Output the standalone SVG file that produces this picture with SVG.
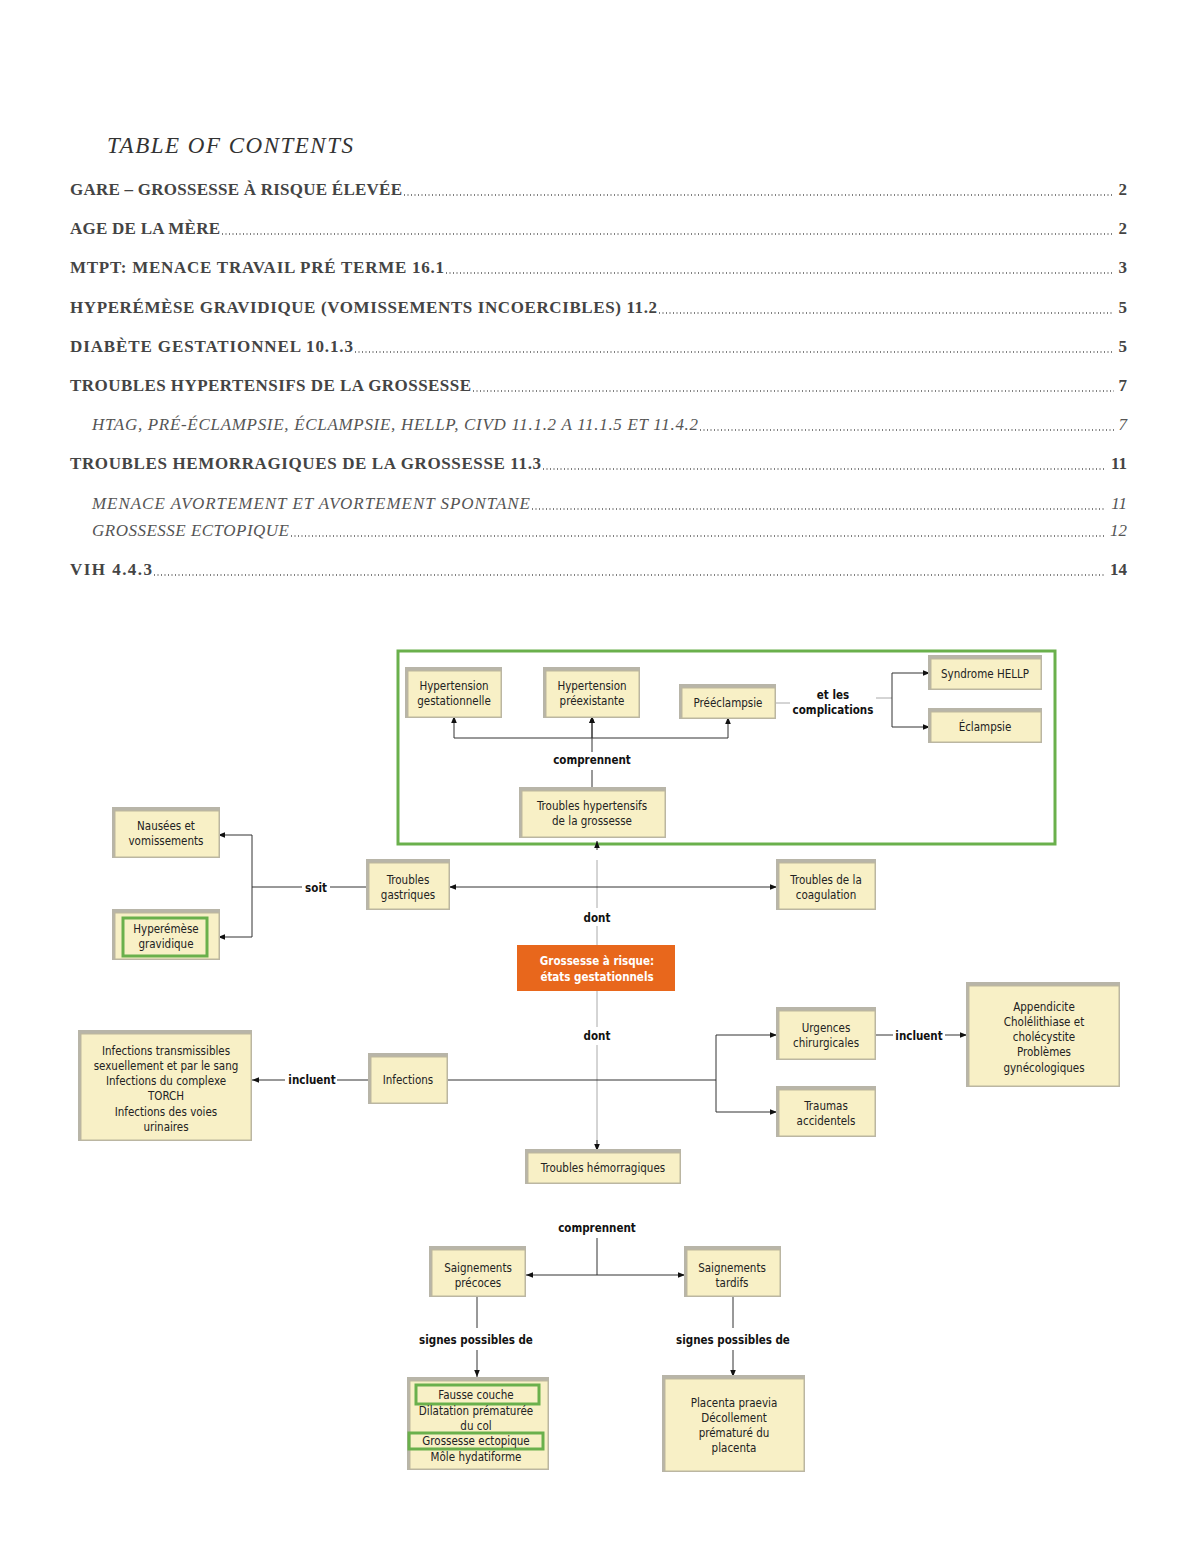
<svg xmlns="http://www.w3.org/2000/svg" width="1200" height="1553" viewBox="0 0 1200 1553">
<defs>
<style>
.toc{font-family:"Liberation Serif",serif;font-weight:bold;font-size:17px;fill:#444}
.toci{font-family:"Liberation Serif",serif;font-style:italic;font-size:17px;fill:#555}
.dots{stroke:#555;stroke-width:1.3;stroke-dasharray:1 2.5}
.box{fill:#f8f0c6;stroke:#bdb89c;stroke-width:1}
.sh{fill:#b8b5a8}
.t{font-family:"DejaVu Sans Condensed","DejaVu Sans",sans-serif;font-size:11.5px;fill:#222;text-anchor:middle}
.b{font-family:"DejaVu Sans Condensed","DejaVu Sans",sans-serif;font-size:11.5px;font-weight:bold;fill:#111;text-anchor:middle}
.ln{stroke:#333;stroke-width:1;fill:none}
.lg{stroke:#aaa;stroke-width:1;fill:none}
.gr{fill:none;stroke:#6ab04c;stroke-width:3}
</style>
<marker id="a" viewBox="0 0 10 10" refX="10" refY="5" markerWidth="7" markerHeight="7" orient="auto-start-reverse"><path d="M0,1 L10,5 L0,9z" fill="#111"/></marker>
</defs>
<rect width="1200" height="1553" fill="#fff"/>
<text x="107" y="153" font-family="Liberation Serif,serif" font-style="italic" font-size="23" fill="#333" letter-spacing="1.5">TABLE OF CONTENTS</text>
<g id="toc">
<text class="toc" x="70" y="195" textLength="332">GARE – GROSSESSE À RISQUE ÉLEVÉE</text><line class="dots" x1="404" y1="195" x2="1114" y2="195"/><text class="toc" x="1127" y="195" text-anchor="end">2</text>
<text class="toc" x="70" y="234" textLength="150">AGE DE LA MÈRE</text><line class="dots" x1="222" y1="234" x2="1114" y2="234"/><text class="toc" x="1127" y="234" text-anchor="end">2</text>
<text class="toc" x="70" y="273" textLength="374">MTPT: MENACE TRAVAIL PRÉ TERME 16.1</text><line class="dots" x1="446" y1="273" x2="1114" y2="273"/><text class="toc" x="1127" y="273" text-anchor="end">3</text>
<text class="toc" x="70" y="313" textLength="587">HYPERÉMÈSE GRAVIDIQUE (VOMISSEMENTS INCOERCIBLES) 11.2</text><line class="dots" x1="659" y1="313" x2="1114" y2="313"/><text class="toc" x="1127" y="313" text-anchor="end">5</text>
<text class="toc" x="70" y="352" textLength="283">DIABÈTE GESTATIONNEL 10.1.3</text><line class="dots" x1="355" y1="352" x2="1114" y2="352"/><text class="toc" x="1127" y="352" text-anchor="end">5</text>
<text class="toc" x="70" y="391" textLength="401">TROUBLES HYPERTENSIFS DE LA GROSSESSE</text><line class="dots" x1="473" y1="391" x2="1114" y2="391"/><text class="toc" x="1127" y="391" text-anchor="end">7</text>
<text class="toci" x="92" y="430" textLength="606">HTAG, PRÉ-ÉCLAMPSIE, ÉCLAMPSIE, HELLP, CIVD 11.1.2 A 11.1.5 ET 11.4.2</text><line class="dots" x1="700" y1="430" x2="1114" y2="430"/><text class="toci" x="1127" y="430" text-anchor="end">7</text>
<text class="toc" x="70" y="469" textLength="471">TROUBLES HEMORRAGIQUES DE LA GROSSESSE 11.3</text><line class="dots" x1="543" y1="469" x2="1104" y2="469"/><text class="toc" x="1127" y="469" text-anchor="end">11</text>
<text class="toci" x="92" y="509" textLength="438">MENACE AVORTEMENT ET AVORTEMENT SPONTANE</text><line class="dots" x1="532" y1="509" x2="1104" y2="509"/><text class="toci" x="1127" y="509" text-anchor="end">11</text>
<text class="toci" x="92" y="536" textLength="197">GROSSESSE ECTOPIQUE</text><line class="dots" x1="291" y1="536" x2="1104" y2="536"/><text class="toci" x="1127" y="536" text-anchor="end">12</text>
<text class="toc" x="70" y="575" textLength="82">VIH 4.4.3</text><line class="dots" x1="154" y1="575" x2="1104" y2="575"/><text class="toc" x="1127" y="575" text-anchor="end">14</text>
</g>
<rect class="gr" x="398" y="651" width="657" height="193"/>
<g id="connectors">
<path class="ln" d="M454,738 H728 M592,790 V770 M592,752 V716" marker-end="url(#a)"/>
<path class="ln" d="M454,738 V716" marker-end="url(#a)"/>
<path class="ln" d="M728,738 V717" marker-end="url(#a)"/>
<path class="ln" d="M592,738 V716" marker-end="url(#a)"/>
<path class="lg" d="M775,703 H790 M876,698 H892"/>
<path class="ln" d="M892,673 V727"/>
<path class="ln" d="M892,673 H930" marker-end="url(#a)"/>
<path class="ln" d="M892,727 H930" marker-end="url(#a)"/>
<path class="lg" d="M597,860 V908 M597,926 V945 M597,991 V1027 M597,1045 V1150"/>
<path class="ln" d="M597,850 V841" marker-end="url(#a)"/>
<path class="ln" d="M597,1140 V1151" marker-end="url(#a)"/>
<path class="ln" d="M449,887 H777" marker-start="url(#a)" marker-end="url(#a)"/>
<path class="ln" d="M252,887 H302 M330,887 H368 M252,835 V937"/>
<path class="ln" d="M252,835 H218" marker-end="url(#a)"/>
<path class="ln" d="M252,937 H218" marker-end="url(#a)"/>
<path class="ln" d="M285,1080 H252" marker-end="url(#a)"/>
<path class="ln" d="M337,1080 H370 M446,1080 H716 M716,1035 V1112"/>
<path class="ln" d="M716,1035 H777" marker-end="url(#a)"/>
<path class="ln" d="M716,1112 H777" marker-end="url(#a)"/>
<path class="ln" d="M874,1035 H893"/>
<path class="ln" d="M945,1035 H967" marker-end="url(#a)"/>
<path class="ln" d="M597,1238 V1275"/>
<path class="ln" d="M526,1275 H685" marker-start="url(#a)" marker-end="url(#a)"/>
<path class="ln" d="M477,1297 V1328 M733,1297 V1328"/>
<path class="ln" d="M477,1350 V1377" marker-end="url(#a)"/>
<path class="ln" d="M733,1350 V1377" marker-end="url(#a)"/>
</g>
<g id="labels">
<text class="b" x="833" y="699">et les</text><text class="b" x="833" y="714">complications</text>
<text class="b" x="592" y="764">comprennent</text>
<text class="b" x="597" y="922">dont</text>
<text class="b" x="597" y="1040">dont</text>
<text class="b" x="316" y="892">soit</text>
<text class="b" x="312" y="1084">incluent</text>
<text class="b" x="919" y="1040">incluent</text>
<text class="b" x="597" y="1232">comprennent</text>
<text class="b" x="476" y="1344">signes possibles de</text>
<text class="b" x="733" y="1344">signes possibles de</text>
</g>
<g id="n1"><rect class="sh" x="405" y="667" width="97" height="51"/><rect class="box" x="408" y="671" width="93" height="46"/><text class="t" x="454" y="690">Hypertension</text><text class="t" x="454" y="705">gestationnelle</text></g>
<g id="n2"><rect class="sh" x="543" y="667" width="97" height="51"/><rect class="box" x="546" y="671" width="93" height="46"/><text class="t" x="592" y="690">Hypertension</text><text class="t" x="592" y="705">préexistante</text></g>
<g id="n3"><rect class="sh" x="679" y="684" width="97" height="35"/><rect class="box" x="682" y="688" width="93" height="30"/><text class="t" x="728" y="707">Prééclampsie</text></g>
<g id="n4"><rect class="sh" x="928" y="655" width="114" height="35"/><rect class="box" x="931" y="659" width="110" height="30"/><text class="t" x="985" y="678">Syndrome HELLP</text></g>
<g id="n5"><rect class="sh" x="928" y="708" width="114" height="35"/><rect class="box" x="931" y="712" width="110" height="30"/><text class="t" x="985" y="731">Éclampsie</text></g>
<g id="n6"><rect class="sh" x="519" y="787" width="147" height="51"/><rect class="box" x="522" y="791" width="143" height="46"/><text class="t" x="592" y="810">Troubles hypertensifs</text><text class="t" x="592" y="825">de la grossesse</text></g>
<g id="n7"><rect class="sh" x="112" y="807" width="108" height="51"/><rect class="box" x="115" y="811" width="104" height="46"/><text class="t" x="166" y="830">Nausées et</text><text class="t" x="166" y="845">vomissements</text></g>
<g id="n8"><rect class="sh" x="112" y="909" width="108" height="51"/><rect class="box" x="115" y="913" width="104" height="46"/><rect class="gr" x="123" y="918" width="84" height="38" stroke-width="2.5"/><text class="t" x="166" y="933">Hyperémèse</text><text class="t" x="166" y="948">gravidique</text></g>
<g id="n9"><rect class="sh" x="366" y="859" width="84" height="51"/><rect class="box" x="369" y="863" width="80" height="46"/><text class="t" x="408" y="884">Troubles</text><text class="t" x="408" y="899">gastriques</text></g>
<g id="n10"><rect class="sh" x="776" y="859" width="100" height="51"/><rect class="box" x="779" y="863" width="96" height="46"/><text class="t" x="826" y="884">Troubles de la</text><text class="t" x="826" y="899">coagulation</text></g>
<g id="n11"><rect x="517" y="945" width="158" height="46" fill="#e8671c"/><text class="b" x="597" y="965" fill="#fff" style="fill:#fff">Grossesse à risque:</text><text class="b" x="597" y="981" style="fill:#fff">états gestationnels</text></g>
<g id="n12"><rect class="sh" x="78" y="1030" width="174" height="111"/><rect class="box" x="81" y="1034" width="170" height="106"/><text class="t" x="166" y="1055">Infections transmissibles</text><text class="t" x="166" y="1070">sexuellement et par le sang</text><text class="t" x="166" y="1085">Infections du complexe</text><text class="t" x="166" y="1100">TORCH</text><text class="t" x="166" y="1116">Infections des voies</text><text class="t" x="166" y="1131">urinaires</text></g>
<g id="n13"><rect class="sh" x="368" y="1053" width="80" height="51"/><rect class="box" x="371" y="1057" width="76" height="46"/><text class="t" x="408" y="1084">Infections</text></g>
<g id="n14"><rect class="sh" x="776" y="1007" width="100" height="53"/><rect class="box" x="779" y="1011" width="96" height="48"/><text class="t" x="826" y="1032">Urgences</text><text class="t" x="826" y="1047">chirurgicales</text></g>
<g id="n15"><rect class="sh" x="776" y="1086" width="100" height="51"/><rect class="box" x="779" y="1090" width="96" height="46"/><text class="t" x="826" y="1110">Traumas</text><text class="t" x="826" y="1125">accidentels</text></g>
<g id="n16"><rect class="sh" x="966" y="982" width="154" height="105"/><rect class="box" x="969" y="986" width="150" height="100"/><text class="t" x="1044" y="1011">Appendicite</text><text class="t" x="1044" y="1026">Cholélithiase et</text><text class="t" x="1044" y="1041">cholécystite</text><text class="t" x="1044" y="1056">Problèmes</text><text class="t" x="1044" y="1072">gynécologiques</text></g>
<g id="n17"><rect class="sh" x="525" y="1149" width="156" height="35"/><rect class="box" x="528" y="1153" width="152" height="30"/><text class="t" x="603" y="1172">Troubles hémorragiques</text></g>
<g id="n18"><rect class="sh" x="429" y="1246" width="97" height="51"/><rect class="box" x="432" y="1250" width="93" height="46"/><text class="t" x="478" y="1272">Saignements</text><text class="t" x="478" y="1287">précoces</text></g>
<g id="n19"><rect class="sh" x="684" y="1246" width="97" height="51"/><rect class="box" x="687" y="1250" width="93" height="46"/><text class="t" x="732" y="1272">Saignements</text><text class="t" x="732" y="1287">tardifs</text></g>
<g id="n20"><rect class="sh" x="407" y="1377" width="142" height="93"/><rect class="box" x="410" y="1381" width="138" height="88"/><rect class="gr" x="416" y="1385" width="123" height="19" stroke-width="2.5"/><rect class="gr" x="409" y="1433" width="134" height="16" stroke-width="2.5"/><text class="t" x="476" y="1399">Fausse couche</text><text class="t" x="476" y="1415">Dilatation prématurée</text><text class="t" x="476" y="1430">du col</text><text class="t" x="476" y="1445">Grossesse ectopique</text><text class="t" x="476" y="1461">Môle hydatiforme</text></g>
<g id="n21"><rect class="sh" x="662" y="1375" width="143" height="97"/><rect class="box" x="665" y="1379" width="139" height="92"/><text class="t" x="734" y="1407">Placenta praevia</text><text class="t" x="734" y="1422">Décollement</text><text class="t" x="734" y="1437">prématuré du</text><text class="t" x="734" y="1452">placenta</text></g>
</svg>
